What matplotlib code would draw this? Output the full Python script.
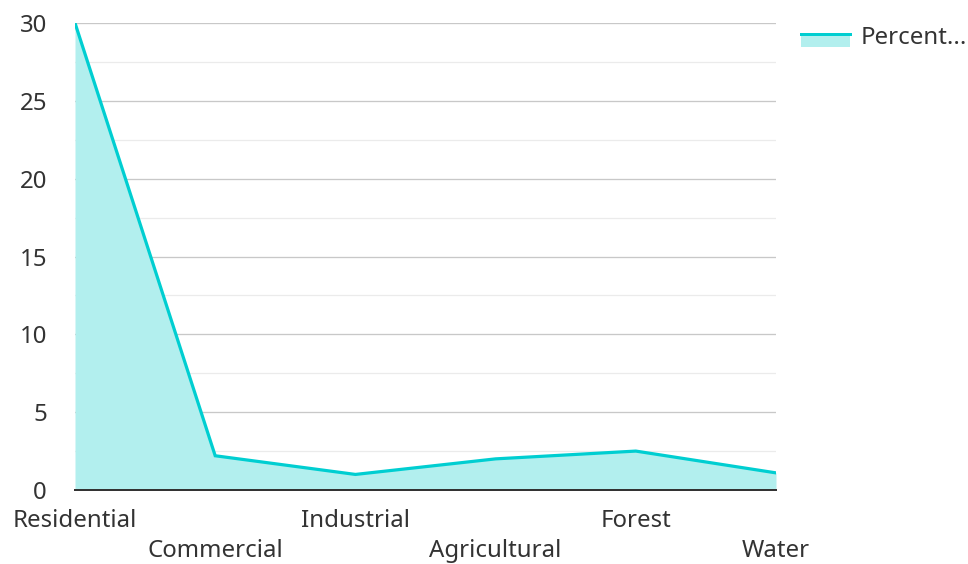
import matplotlib.pyplot as plt
from matplotlib.patches import Rectangle
from matplotlib.lines import Line2D
from matplotlib.legend_handler import HandlerBase

categories = ['Residential', 'Commercial', 'Industrial', 'Agricultural', 'Forest', 'Water']
percent = [30, 2.2, 1.0, 2.0, 2.5, 1.1]
series_name = 'Percent...'

line_color = '#00ced1'
fill_color = '#b2efee'

plt.rcParams['font.family'] = ['Noto Sans', 'DejaVu Sans']

fig = plt.figure(figsize=(968 / 72, 564 / 72), dpi=72)
ax = fig.add_axes([75 / 968, 1 - 490 / 564, (776 - 75) / 968, (490 - 23) / 564])

x = list(range(len(categories)))
ax.fill_between(x, percent, 0, color=fill_color, linewidth=0, zorder=2)
ax.plot(x, percent, color=line_color, linewidth=3.2, zorder=3, solid_joinstyle='miter')

ax.set_xlim(0, len(categories) - 1)
ax.set_ylim(0, 30)
ax.set_yticks([0, 5, 10, 15, 20, 25, 30])
ax.set_yticks([2.5, 7.5, 12.5, 17.5, 22.5, 27.5], minor=True)
ax.grid(True, which='major', axis='y', color='#c8c8c8', linewidth=1.3, zorder=1)
ax.grid(True, which='minor', axis='y', color='#ebebeb', linewidth=1.3, zorder=1)
ax.tick_params(axis='y', which='both', length=0, labelsize=24, labelcolor='#333333', pad=28)
ax.tick_params(axis='x', length=0, labelsize=24, labelcolor='#333333', pad=19)

ax.set_xticks(x)
ax.set_xticklabels([c if i % 2 == 0 else '\n' + c for i, c in enumerate(categories)],
                   linespacing=1.31)

for s in ['top', 'right', 'left']:
    ax.spines[s].set_visible(False)
ax.spines['bottom'].set_color('#333333')
ax.spines['bottom'].set_linewidth(2)
ax.spines['bottom'].set_zorder(4)


class AreaHandler(HandlerBase):
    def create_artists(self, legend, orig_handle, xdescent, ydescent, width, height, fontsize, trans):
        top = -ydescent + height * 0.62
        r = Rectangle((-xdescent, top - 13), width, 13, facecolor=fill_color,
                      edgecolor='none', transform=trans)
        l = Line2D([-xdescent, -xdescent + width], [top, top],
                   color=line_color, linewidth=3, transform=trans)
        return [r, l]


handle = Rectangle((0, 0), 1, 1)
fig.legend([handle], [series_name], handler_map={Rectangle: AreaHandler()},
           loc='upper left', bbox_to_anchor=(794 / 968, 1 - 19 / 564), frameon=False,
           fontsize=24, handlelength=2.05, handletextpad=0.42, labelcolor='#333333',
           borderaxespad=0, borderpad=0.3)

fig.savefig('out.png', dpi=72)
